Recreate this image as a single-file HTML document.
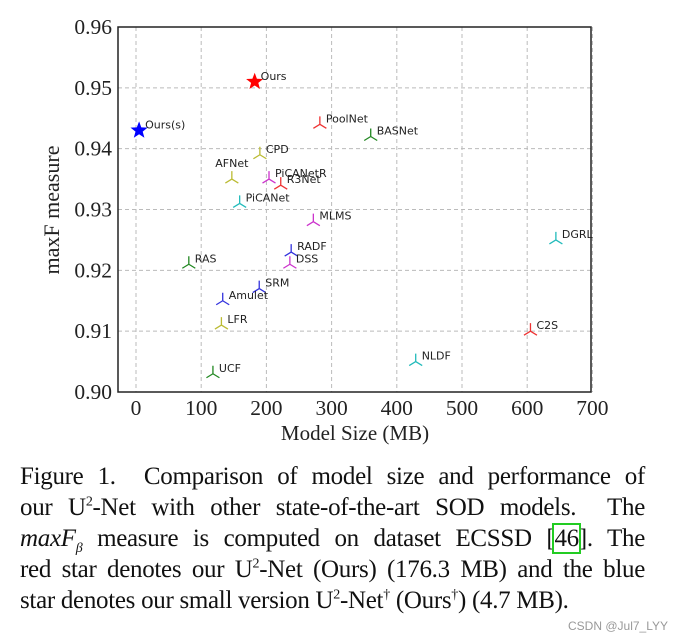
<!DOCTYPE html>
<html><head><meta charset="utf-8"><style>
body{margin:0;background:#fff;width:692px;height:640px;overflow:hidden;position:relative}
svg{position:absolute;left:0;top:0}
.cap{position:absolute;left:20px;width:625px;font-family:"Liberation Serif",serif;font-size:25px;letter-spacing:-0.3px;color:#111;text-align:justify;text-align-last:justify;white-space:nowrap;line-height:31px}
sup{font-size:14px;line-height:0}
</style></head><body>
<svg id="chart" width="692" height="450"></svg>
<div class="cap" style="top:461px">Figure 1.&nbsp; Comparison of model size and performance of</div>
<div class="cap" style="top:492px">our U<sup>2</sup>-Net with other state-of-the-art SOD models.&nbsp; The</div>
<div class="cap" style="top:523px"><i>maxF<sub style="font-size:14px">β</sub></i> measure is computed on dataset ECSSD [<span style="outline:2px solid #2c2;">46</span>]. The</div>
<div class="cap" style="top:554px">red star denotes our U<sup>2</sup>-Net (Ours) (176.3 MB) and the blue</div>
<div class="cap" style="top:585px;text-align-last:left;width:auto">star denotes our small version U<sup>2</sup>-Net<sup>†</sup> (Ours<sup>†</sup>) (4.7 MB).</div>
<div style="position:absolute;left:568px;top:619px;font-family:'Liberation Sans',sans-serif;font-size:12px;color:#999">CSDN @Jul7_LYY</div>
<script>
const names=["Ours(s)","Ours","PoolNet","BASNet","CPD","AFNet","PiCANetR","R3Net","PiCANet","MLMS","DGRL","RADF","DSS","RAS","SRM","Amulet","LFR","C2S","NLDF","UCF"];
const sizes=[4.7,182,282,360,190,147,204,222,159,272,644,238,236,81,189,133,131,605,429,118];
const scores=[0.943,0.951,0.944,0.942,0.939,0.935,0.935,0.934,0.931,0.928,0.925,0.923,0.921,0.921,0.917,0.915,0.911,0.910,0.905,0.903];
const colors=["#00f","#f00","#e33","#282","#bb3","#bb3","#c3c","#e33","#2bb","#c3c","#2bb","#33d","#c3c","#282","#33d","#33d","#bb3","#e33","#2bb","#282"];
const xTicks=[0,100,200,300,400,500,600,700];
const yTicks=[0.90,0.91,0.92,0.93,0.94,0.95,0.96];
const X=v=>136+v*0.652, Y=v=>392-(v-0.90)*6083.3;
const svg=document.getElementById('chart');const NS="http://www.w3.org/2000/svg";
function mk(t,a,p){const e=document.createElementNS(NS,t);for(const k in a)e.setAttribute(k,a[k]);(p||svg).appendChild(e);return e;}
const L=118,R=591,T=27,B=392;
xTicks.forEach(v=>{const g=mk('line',{x1:X(v),x2:X(v),y1:T,y2:B,stroke:'#bbb','stroke-dasharray':'4,3'});


const t=mk('text',{x:X(v),y:B+23,'text-anchor':'middle','font-family':'Liberation Serif,serif','font-size':21.5,fill:'#222'});t.textContent=v;

});
yTicks.forEach(v=>{const g=mk('line',{x1:L,x2:R,y1:Y(v),y2:Y(v),stroke:'#bbb','stroke-dasharray':'4,3'});


const t=mk('text',{x:L-6,y:Y(v)+7,'text-anchor':'end','font-family':'Liberation Serif,serif','font-size':21.5,fill:'#222'});t.textContent=v.toFixed(2);

});
const f=mk('rect',{x:L,y:T,width:R-L,height:B-T,fill:'none',stroke:'#222','stroke-width':1.5});


const xl=mk('text',{x:355,y:440,'text-anchor':'middle','font-family':'Liberation Serif,serif','font-size':21,fill:'#222'});xl.textContent='Model Size (MB)';


const yl=mk('text',{x:0,y:0,transform:'translate(59,210) rotate(-90)','text-anchor':'middle','font-family':'Liberation Serif,serif','font-size':22,fill:'#222'});yl.textContent='maxF measure';


function star(cx,cy,r){let p=[];for(let i=0;i<10;i++){const a=-Math.PI/2+i*Math.PI/5,rr=i%2?r*0.42:r;p.push((cx+rr*Math.cos(a)).toFixed(1)+','+(cy+rr*Math.sin(a)).toFixed(1));}return p.join(' ');}
names.forEach((n,i)=>{const cx=X(sizes[i]),cy=Y(scores[i]);
let m;
if(i<2){m=mk('polygon',{points:star(cx,cy,9),fill:colors[i]});}
else{m=mk('path',{d:`M${cx},${cy}V${cy-8}M${cx},${cy}L${cx-6.5},${cy+4}M${cx},${cy}L${cx+6.5},${cy+4}`,stroke:colors[i],'stroke-width':1.3,fill:'none'});}


let tx=cx+6,ty=cy-2,anc='start';
if(n==='AFNet'){tx=cx;ty=cy-12;anc='middle';}
const t=mk('text',{x:tx,y:ty,'text-anchor':anc,'font-family':'DejaVu Sans,sans-serif','font-size':11,fill:'#222'});t.textContent=n;

});
</script>
</body></html>
